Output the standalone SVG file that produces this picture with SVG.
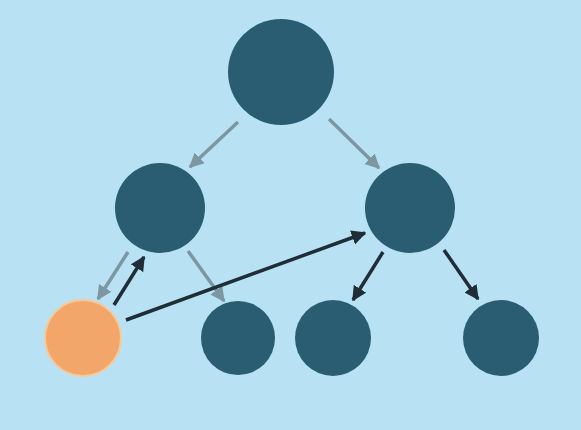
<svg xmlns="http://www.w3.org/2000/svg" width="581" height="430" viewBox="0 0 581 430">
<defs>
<style>
.n{fill:#2a5d72}
.o{fill:#f3a66a;stroke:#f6c99a;stroke-width:2}
.g{stroke:#7c97a2;stroke-width:3.5;fill:none}
.d{stroke:#1f2d36;stroke-width:3.5;fill:none}
</style>
<marker id="ag" viewBox="0 0 10 10" refX="9" refY="5" markerWidth="4.2" markerHeight="4.2" markerUnits="strokeWidth" orient="auto"><path d="M0,0 L10,5 L0,10 Z" fill="#7c97a2"/></marker>
<marker id="ad" viewBox="0 0 10 10" refX="9" refY="5" markerWidth="4.2" markerHeight="4.2" markerUnits="strokeWidth" orient="auto"><path d="M0,0 L10,5 L0,10 Z" fill="#1f2d36"/></marker>
</defs>
<rect width="581" height="430" fill="#b8e2f3"/>
<g id="connectors">
<line class="g" x1="238" y1="122" x2="190" y2="167" marker-end="url(#ag)"/>
<line class="g" x1="329" y1="119" x2="379" y2="168" marker-end="url(#ag)"/>
<line class="g" x1="128" y1="252" x2="98" y2="299" marker-end="url(#ag)"/>
<line class="g" x1="188" y1="251" x2="224" y2="301" marker-end="url(#ag)"/>
<line class="d" x1="114" y1="305" x2="144" y2="257" marker-end="url(#ad)"/>
<line class="d" x1="126" y1="320" x2="365" y2="233" marker-end="url(#ad)"/>
<line class="d" x1="383" y1="252" x2="353" y2="300" marker-end="url(#ad)"/>
<line class="d" x1="444" y1="250" x2="478" y2="299" marker-end="url(#ad)"/>
</g>
<g id="root"><circle class="n" cx="281" cy="72" r="53"/></g>
<g id="left"><circle class="n" cx="160" cy="208" r="45"/></g>
<g id="right"><circle class="n" cx="410" cy="208" r="45"/></g>
<g id="orange"><circle class="o" cx="83" cy="338" r="38"/></g>
<g id="leaf1"><circle class="n" cx="238" cy="338" r="37"/></g>
<g id="leaf2"><circle class="n" cx="333" cy="338" r="38"/></g>
<g id="leaf3"><circle class="n" cx="501" cy="338" r="38"/></g>
</svg>
